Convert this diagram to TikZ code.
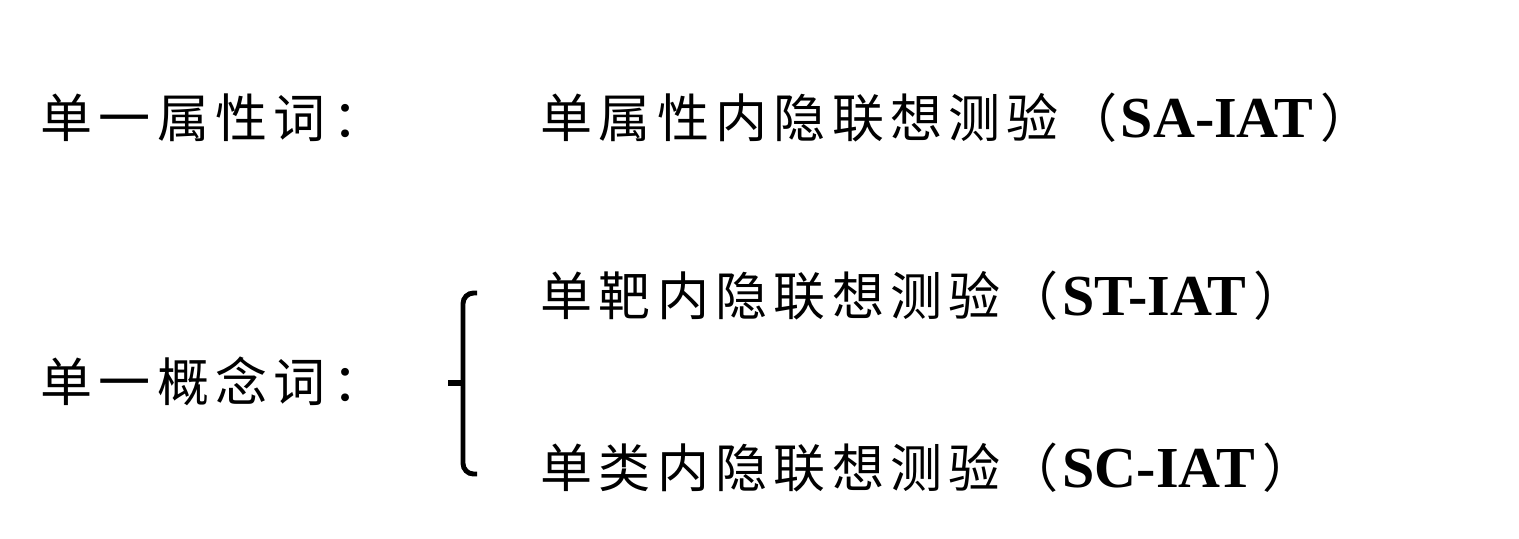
\documentclass[tikz,border=0pt]{standalone}
\usepackage{fontspec}
\setmainfont{Liberation Serif}
\newfontfamily\cjk[LetterSpace=12]{Noto Sans CJK SC}
\newcommand{\lat}[1]{\hspace{1pt}{\fontsize{16.5}{18}\rmfamily\bfseries #1}\hspace{2pt}}
\begin{document}
\begin{tikzpicture}[x=0.01cm,y=-0.01cm,
  lab/.style={anchor=west,inner sep=0pt,font=\fontsize{14.8}{17}\cjk}]
\useasboundingbox (0,0) rectangle (1519,538);
% left labels
\node[lab] (attr) at (40,118) {单一属性词：};
\node[lab] (concept) at (40,381) {单一概念词：};
% right labels
\node[lab] (saiat) at (540,118) {单属性内隐联想测验（\lat{SA-IAT}）};
\node[lab] (stiat) at (540,296) {单靶内隐联想测验（\lat{ST-IAT}）};
\node[lab] (sciat) at (540,468) {单类内隐联想测验（\lat{SC-IAT}）};
% brace
\draw[line width=1.4pt,rounded corners=3] (477,293) -| (463,474) -- (477,474);
\draw[line width=1.6pt] (448,383) -- (463,383);
\end{tikzpicture}
\end{document}
